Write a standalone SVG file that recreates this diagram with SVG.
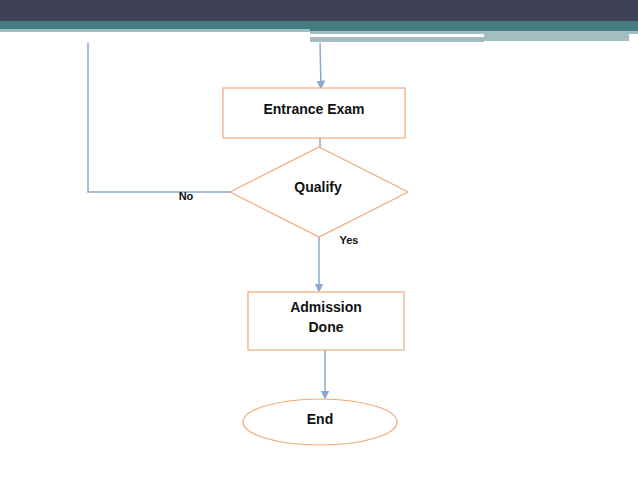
<svg xmlns="http://www.w3.org/2000/svg" width="638" height="479" viewBox="0 0 638 479">
<style>
.n{fill:#fff;stroke:#f0a878;stroke-width:1.2}
.c{stroke:#8aa8d0;stroke-width:1.5;fill:none}
text{font-family:"Liberation Sans",Arial,sans-serif;font-weight:bold;font-size:14px;fill:#111;text-anchor:middle}
.s{font-size:11px}
</style>
<defs><marker id="a" markerWidth="6" markerHeight="6" refX="5" refY="3" orient="auto"><path d="M0,0 L6,3 L0,6 z" fill="#8aa8d0"/></marker></defs>
<rect width="638" height="479" fill="#fff"/>
<rect x="0" y="0" width="638" height="21" fill="#414155"/>
<rect x="0" y="21" width="638" height="10" fill="#457e82"/>
<rect x="0" y="29" width="310" height="3" fill="#9ebfc1"/>
<rect x="310" y="31" width="328" height="3" fill="#9ebfc1"/>
<rect x="310" y="37" width="174" height="5" fill="#a4bdc0"/>
<rect x="484" y="34" width="145" height="7" fill="#a4bdc0"/>
<g id="connectors">
<path class="c" d="M320,43 L321,88" marker-end="url(#a)"/>
<path class="c" d="M320,138 L320,148"/>
<path class="c" d="M230,192 L88,192 L88,43"/>
<path class="c" d="M319,237 L319,291" marker-end="url(#a)"/>
<path class="c" d="M325,350 L325,398" marker-end="url(#a)"/>
<text class="s" x="186" y="200">No</text>
<text class="s" x="349" y="244">Yes</text>
</g>
<g id="exam"><rect class="n" x="223" y="88" width="182" height="50"/><text x="314" y="114">Entrance Exam</text></g>
<g id="qualify"><polygon class="n" points="319,147 408,192 319,237 230,192"/><text x="318" y="192">Qualify</text></g>
<g id="admission"><rect class="n" x="248" y="292" width="156" height="58"/><text x="326" y="312">Admission</text><text x="326" y="332">Done</text></g>
<g id="end"><ellipse class="n" cx="320" cy="422" rx="77" ry="23"/><text x="320" y="424">End</text></g>
</svg>
